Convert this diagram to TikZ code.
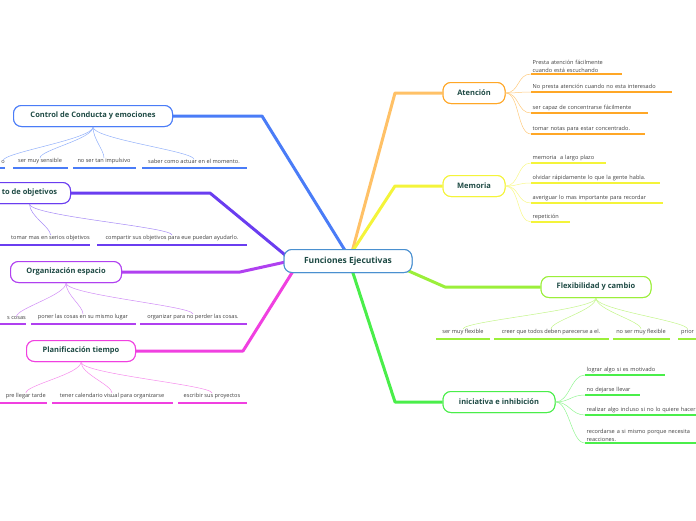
\documentclass[tikz,border=0pt]{standalone}
\usepackage{fontspec}
\setmainfont{Open Sans}
\usetikzlibrary{calc}
\definecolor{txt}{HTML}{1E4A44}
\definecolor{cblue}{HTML}{4A7CF7}
\definecolor{cviol}{HTML}{6A3DF0}
\definecolor{cpurp}{HTML}{B040F0}
\definecolor{cmag}{HTML}{F040E0}
\definecolor{corg}{HTML}{FFA726}
\definecolor{cyel}{HTML}{F4F43A}
\definecolor{clime}{HTML}{9BEF3A}
\definecolor{cgrn}{HTML}{4AEE4A}
\definecolor{ccen}{HTML}{4A90D0}
\begin{document}
\begin{tikzpicture}[x=1pt,y=-1pt,
  br/.style={draw=#1,line width=1pt,rounded corners=8pt,fill=white,text=txt,font=\fontsize{7.5}{9}\selectfont\bfseries,minimum height=21pt,inner xsep=8pt},
  cen/.style={draw=ccen,line width=1pt,rounded corners=8pt,fill=white,text=txt,font=\fontsize{8.5}{10}\selectfont\bfseries,minimum width=128pt,minimum height=23pt},
  leaf/.style={anchor=south west,align=left,inner sep=1.5pt,text=black!75,font=\fontsize{5.6}{7.5}\selectfont},
  ul/.style={draw=#1,line width=1.3pt},
  thn/.style={draw=#1!60,line width=0.5pt},
  conn/.style={draw=#1,line width=3pt,line join=round}]
\useasboundingbox (0,0) rectangle (696,520);
\node[cen] (c) at (348,261) {Funciones Ejecutivas};
\node[br=corg,minimum width=62pt] (at) at (474,93) {Atención};
\node[br=cyel,minimum width=62pt] (me) at (474,186) {Memoria};
\node[br=clime,minimum width=110pt] (fl) at (596,287) {Flexibilidad y cambio};
\node[br=cgrn,minimum width=112pt] (in) at (499,402) {iniciativa e inhibición};
\node[br=cblue,minimum width=159pt] (co) at (93,116) {Control de Conducta y emociones};
\node[br=cviol,minimum width=82pt,anchor=east] (ob) at (71,193) {to de objetivos};
\node[br=cpurp,minimum width=111pt] (or) at (66,272) {Organización espacio};
\node[br=cmag,minimum width=109pt] (pl) at (81,351) {Planificación tiempo};
\coordinate (k1) at (395,93); \coordinate (k2) at (395,186); \coordinate (k3) at (445,287); \coordinate (k4) at (395,402);
\coordinate (k5) at (262,116); \coordinate (k6) at (210,193); \coordinate (k7) at (240,272); \coordinate (k8) at (243,351);
\coordinate (s1) at (352,252); \coordinate (s2) at (352,252); \coordinate (s3) at (395,265); \coordinate (s4) at (352,270);
\coordinate (s5) at (346,252); \coordinate (s6) at (290,259); \coordinate (s7) at (290,261); \coordinate (s8) at (295,268);
\draw[conn=corg!70] (s1) -- (k1) -- (at.west);
\draw[conn=cyel] (s2) -- (k2) -- (me.west);
\draw[conn=clime] (s3) -- (k3) -- (fl.west);
\draw[conn=cgrn] (s4) -- (k4) -- (in.west);
\draw[conn=cblue] (s5) -- (k5) -- (co.east);
\draw[conn=cviol] (s6) -- (k6) -- (ob.east);
\draw[conn=cpurp] (s7) -- (k7) -- (or.east);
\draw[conn=cmag] (s8) -- (k8) -- (pl.east);
\node[cen] at (348,261) {Funciones Ejecutivas};
\node[br=corg,minimum width=62pt] at (474,93) {Atención};
\node[br=cyel,minimum width=62pt] at (474,186) {Memoria};
\node[br=clime,minimum width=110pt] at (596,287) {Flexibilidad y cambio};
\node[br=cgrn,minimum width=112pt] at (499,402) {iniciativa e inhibición};
\node[br=cblue,minimum width=159pt] at (93,116) {Control de Conducta y emociones};
\node[br=cviol,minimum width=82pt,anchor=east] at (71,193) {to de objetivos};
\node[br=cpurp,minimum width=111pt] at (66,272) {Organización espacio};
\node[br=cmag,minimum width=109pt] at (81,351) {Planificación tiempo};
\foreach \nm/\x/\y/\w/\col/\pa/\tx in {
 a1/531/74/88/corg/at/{Presta atención fácilmente\\cuando está escuchando},
 a2/531/92/138/corg/at/{No presta atención cuando no esta interesado},
 a3/531/113/114/corg/at/{ser capaz de concentrarse fácilmente},
 a4/531/134/111/corg/at/{tomar notas para estar concentrado.},
 m1/531/163/72/cyel/me/{memoria \ a largo plazo},
 m2/531/183/126/cyel/me/{olvidar rápidamente lo que la gente habla.},
 m3/531/203/129/cyel/me/{averiguar lo mas importante para recordar},
 m4/531/222/36/cyel/me/{repetición},
 i1/585/375/77/cgrn/in/{lograr algo si es motivado},
 i2/585/395/52/cgrn/in/{no dejarse llevar},
 i3/585/415/130/cgrn/in/{realizar algo incluso si no lo quiere hacer},
 i4/585/443/130/cgrn/in/{recordarse a si mismo porque necesita\\reacciones.}}{
  \node[leaf,text width=\w pt] (\nm) at (\x,\y) {\tx};
  \draw[ul=\col] (\nm.south west) -- (\nm.south east);
  \draw[thn=\col] (\pa.east) .. controls +(14,0) and +(-14,0) .. (\nm.south west);
}
% bottom leaves: name, underline x0, x1, y, color, parent, text x, anchor, text
\foreach \nm/\x/\xe/\y/\col/\pa/\tx/\an/\tt in {
 f1/436/490/339/clime/fl/463/south/{ser muy flexible},
 f2/494/609/339/clime/fl/551/south/{creer que todos deben parecerse a el.},
 f3/613/670/339/clime/fl/641/south/{no ser muy flexible},
 f4/678/740/339/clime/fl/681/south west/{prior},
 c1/-40/5/168/cblue/co/5/south east/{o},
 c2/13/68/168/cblue/co/40/south/{ser muy sensible},
 c3/73/136/168/cblue/co/104/south/{no ser tan impulsivo},
 c4/142/247/168/cblue/co/194/south/{saber como actuar en el momento.},
 o1/-40/90/245/cviol/ob/90/south east/{tomar mas en serios objetivos},
 o2/97/247/245/cviol/ob/172/south/{compartir sus objetivos para eue puedan ayudarlo.},
 r1/-40/26/324/cpurp/or/26/south east/{s cosas},
 r2/31/136/324/cpurp/or/83/south/{poner las cosas en su mismo lugar},
 r3/140/247/324/cpurp/or/193/south/{organizar para no perder las cosas.},
 p1/-40/47/403/cmag/pl/46/south east/{pre llegar tarde},
 p2/52/173/403/cmag/pl/112/south/{tener calendario visual para organizarse},
 p3/178/247/403/cmag/pl/212/south/{escribir sus proyectos}}{
  \coordinate (\nm L) at (\x,\y); \coordinate (\nm R) at (\xe,\y);
  \node[leaf,anchor=\an,inner sep=0pt] (\nm) at (\tx,\y-4) {\tt};
  \draw[ul=\col] (\nm L) -- (\nm R);
  \draw[thn=\col] (\pa.south) .. controls +(0,12) and +(0,-8) .. (\nm.north);
}
\end{tikzpicture}
\end{document}
